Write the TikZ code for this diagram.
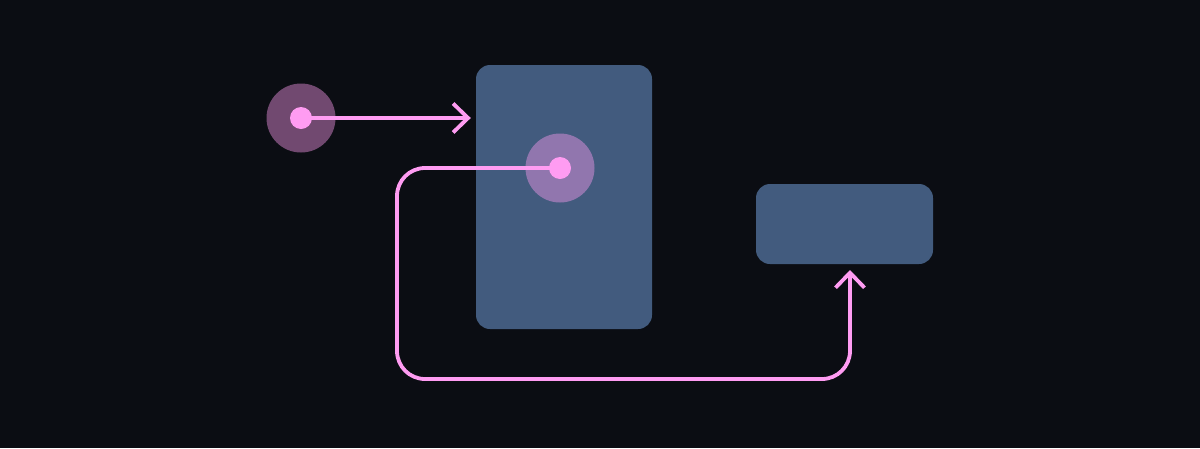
\documentclass[tikz,border=0pt]{standalone}
\usepackage{tikz}
\usetikzlibrary{arrows.meta, positioning}
\definecolor{bgdark}{HTML}{0B0D13}
\definecolor{slateblue}{HTML}{425B7E}
\definecolor{pinkline}{HTML}{FF9CF2}

\begin{document}
\begin{tikzpicture}[x=1pt, y=-1pt,
  panel/.style={rectangle, rounded corners=14pt, fill=slateblue, inner sep=0pt},
  halo/.style={circle, fill=pinkline, fill opacity=0.42, minimum size=69pt, inner sep=0pt},
  dot/.style={circle, fill=pinkline, minimum size=22pt, inner sep=0pt},
  flow/.style={draw=pinkline, line width=3.8pt, line cap=round, line join=round,
    -{Straight Barb[length=15pt, width=29pt, line width=3.8pt]}}]
\fill[bgdark] (0,0) rectangle (1200,448);
\useasboundingbox (0,0) rectangle (1200,448);

\node[panel, minimum width=176pt, minimum height=264pt] (mainbox) at (564,197) {};
\node[panel, minimum width=177pt, minimum height=80pt] (sidebox) at (844.5,224) {};
\node[halo] (srchalo) at (301,118) {};
\node[halo] (midhalo) at (560,168) {};
\coordinate (loopcorner) at (397,379);
\coordinate (sidein) at (850,264);

\draw[flow, shorten >=5pt] (srchalo.center) -- (mainbox.west |- srchalo);
\draw[flow, rounded corners=28pt, shorten >=6pt]
(midhalo.center) -| (loopcorner) -| (sidein);

\node[dot] (srcdot) at (srchalo.center) {};
\node[dot] (middot) at (midhalo.center) {};
\end{tikzpicture}
\end{document}
